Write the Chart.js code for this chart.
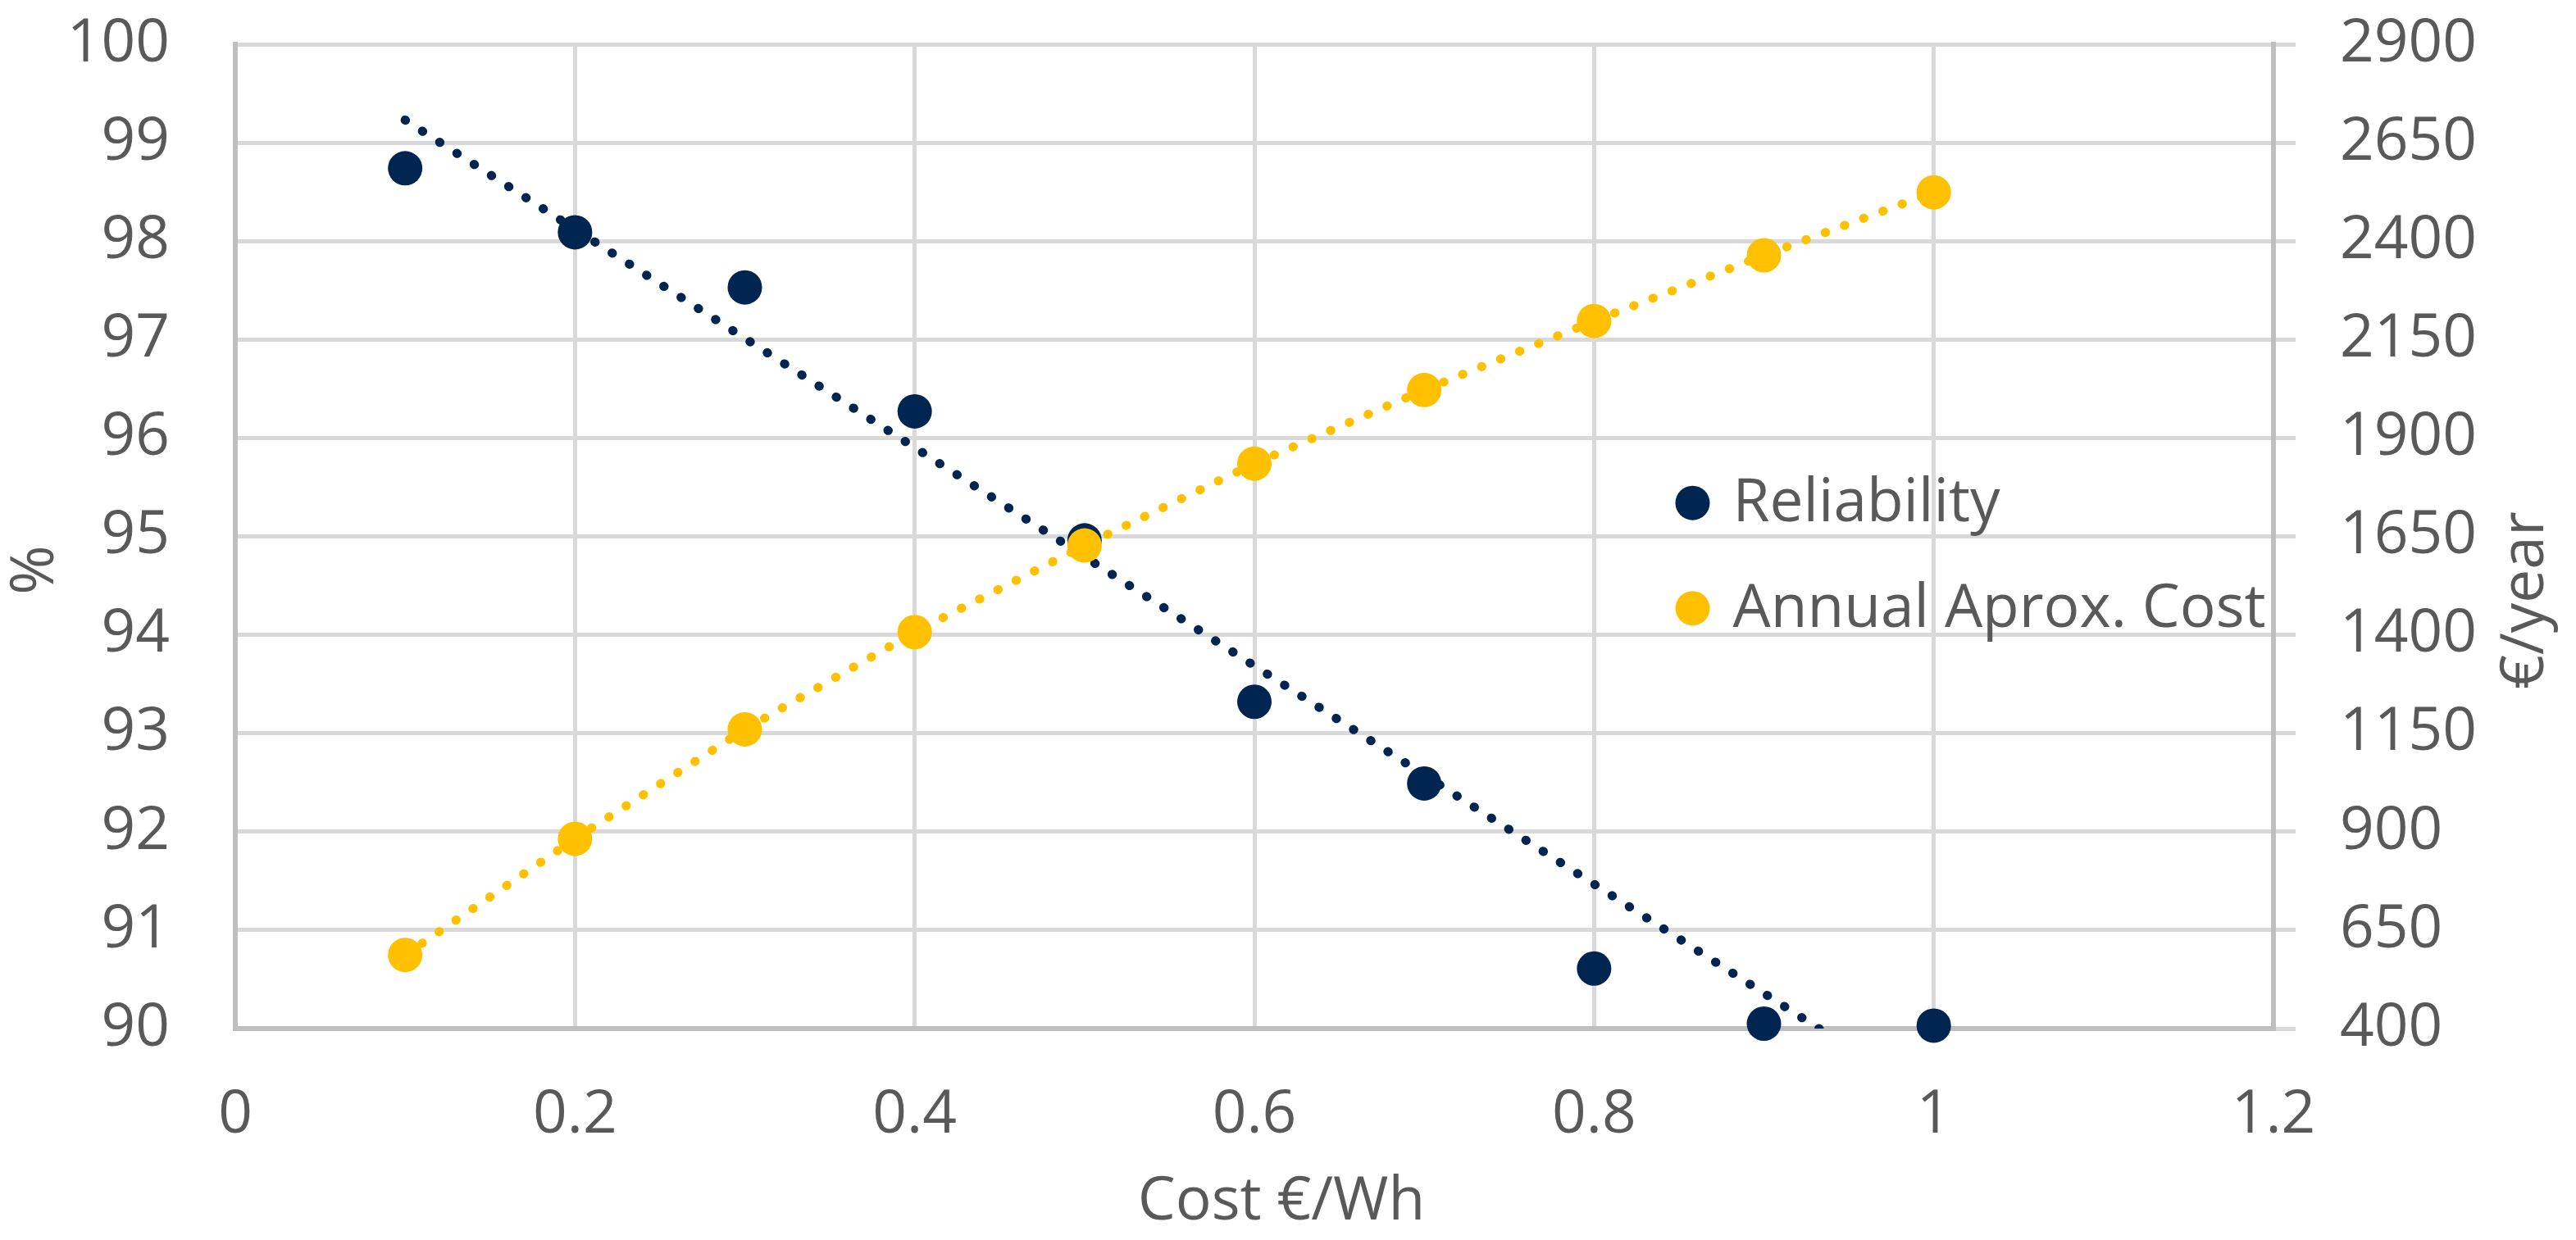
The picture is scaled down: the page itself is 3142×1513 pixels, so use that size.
<!DOCTYPE html>
<html>
<head>
<meta charset="utf-8">
<title>Reliability vs cost</title>
<script src="https://cdn.jsdelivr.net/npm/chart.js@4/dist/chart.umd.min.js"></script>
<style>
  html, body { margin: 0; padding: 0; background: #fff; }
  #wrap { width: 3142px; height: 1513px; }
</style>
</head>
<body>
<div id="wrap"><canvas id="chart" width="3142" height="1513"></canvas></div>
<script>
// values
const costPerWh = [0.1, 0.2, 0.3, 0.4, 0.5, 0.6, 0.7, 0.8, 0.9, 1.0];
const reliability = [98.74, 98.09, 97.53, 96.27, 94.96, 93.32, 92.49, 90.61, 90.05, 90.03];
const annualCost = [587, 882, 1160, 1407, 1627, 1835, 2022, 2197, 2364, 2524];

// linear trendline of reliability, end points as drawn
const trendX = [0.1, 1.0];
const trendY = [99.23, 89.25];

const xTicks = [0, 0.2, 0.4, 0.6, 0.8, 1, 1.2];
const pctTicks = [90, 91, 92, 93, 94, 95, 96, 97, 98, 99, 100];
const eurTicks = [400, 650, 900, 1150, 1400, 1650, 1900, 2150, 2400, 2650, 2900];

const seriesNames = ['Reliability', 'Annual Aprox. Cost'];
const titleX = 'Cost €/Wh';
const titleLeft = '%';
const titleRight = '€/year';

const NAVY = '#002551';
const GOLD = '#ffc000';
const TEXT = '#595959';
const FONT = '"Open Sans", sans-serif';
const FS = 73;

const toXY = (xs, ys) => xs.map((x, i) => ({ x: x, y: ys[i] }));

// fixed axis boxes, and drop the extra padding chart.js adds for tick labels
function fixBox(w, h) {
  return s => {
    if (w != null) s.width = w;
    if (h != null) s.height = h;
    s.paddingTop = 0;
    s.paddingBottom = 0;
    s.paddingLeft = 0;
    s.paddingRight = 0;
  };
}

// own legend + axis titles, Excel puts them where Chart.js can't
const extras = {
  id: 'extras',
  afterDraw(chart) {
    const ctx = chart.ctx;
    const a = chart.chartArea;
    const midY = (a.top + a.bottom) / 2;
    const midX = (a.left + a.right) / 2;
    ctx.save();
    ctx.fillStyle = TEXT;
    ctx.font = FS + 'px ' + FONT;
    ctx.textBaseline = 'middle';

    // legend
    const lx = a.left + (a.right - a.left) * 0.715;
    const rows = [a.top + (a.bottom - a.top) * 0.466, a.top + (a.bottom - a.top) * 0.573];
    const colors = [NAVY, GOLD];
    rows.forEach((y, i) => {
      ctx.beginPath();
      ctx.fillStyle = colors[i];
      ctx.arc(lx, y, 21, 0, Math.PI * 2);
      ctx.fill();
      ctx.fillStyle = TEXT;
      ctx.textAlign = 'left';
      ctx.fillText(seriesNames[i], lx + 49, y + 2);
    });

    // axis titles
    ctx.textAlign = 'center';
    ctx.fillText(titleX, midX + 33, a.bottom + 212);

    ctx.save();
    ctx.translate(a.left - 243, midY + 41);
    ctx.rotate(-Math.PI / 2);
    ctx.fillText(titleLeft, 0, 0);
    ctx.restore();

    ctx.save();
    ctx.translate(a.right + 308, midY + 78);
    ctx.rotate(-Math.PI / 2);
    ctx.fillText(titleRight, 0, 0);
    ctx.restore();

    ctx.restore();
  }
};

const ctx = document.getElementById('chart').getContext('2d');
const chart = new Chart(ctx, {
  type: 'scatter',
  data: {
    datasets: [
      {
        label: seriesNames[1],
        data: toXY(costPerWh, annualCost),
        yAxisID: 'y2',
        showLine: true,
        borderColor: GOLD,
        borderWidth: 11,
        borderDash: [0.5, 24.5],
        borderCapStyle: 'round',
        pointRadius: 21,
        pointBackgroundColor: GOLD,
        pointBorderWidth: 0,
        clip: false,
        order: 0
      },
      {
        label: seriesNames[0],
        data: toXY(costPerWh, reliability),
        yAxisID: 'y',
        pointRadius: 21,
        pointBackgroundColor: NAVY,
        pointBorderWidth: 0,
        clip: false,
        order: 1
      },
      {
        label: 'trend',
        data: toXY(trendX, trendY),
        yAxisID: 'y',
        showLine: true,
        borderColor: NAVY,
        borderWidth: 11,
        borderDash: [0.5, 24.5],
        borderCapStyle: 'round',
        pointRadius: 0,
        order: 2
      }
    ]
  },
  options: {
    responsive: false,
    devicePixelRatio: 1,
    animation: false,
    layout: { padding: { top: 54, left: 0, right: 0, bottom: 0 } },
    plugins: {
      legend: { display: false },
      tooltip: { enabled: false }
    },
    scales: {
      x: {
        type: 'linear',
        min: 0,
        max: 1.2,
        afterBuildTicks: s => { s.ticks = xTicks.map(v => ({ value: v })); },
        afterFit: fixBox(null, 258),
        ticks: {
          color: TEXT,
          font: { family: FONT, size: FS },
          padding: 62,
          callback: v => String(Number(v.toFixed(1)))
        },
        grid: { color: '#d9d9d9', lineWidth: 5, drawTicks: false },
        border: { color: '#bfbfbf', width: 6 }
      },
      y: {
        position: 'left',
        min: 90,
        max: 100,
        afterBuildTicks: s => { s.ticks = pctTicks.map(v => ({ value: v })); },
        afterFit: fixBox(287, null),
        ticks: {
          color: TEXT,
          font: { family: FONT, size: FS },
          padding: 80,
          callback: v => String(v)
        },
        grid: { color: '#d9d9d9', lineWidth: 5, drawTicks: false },
        border: { color: '#bfbfbf', width: 6 }
      },
      y2: {
        position: 'right',
        min: 400,
        max: 2900,
        afterBuildTicks: s => { s.ticks = eurTicks.map(v => ({ value: v })); },
        afterFit: fixBox(369, null),
        ticks: {
          color: TEXT,
          font: { family: FONT, size: FS },
          padding: 54,
          callback: v => String(v)
        },
        grid: {
          drawOnChartArea: false,
          drawTicks: true,
          tickLength: 27,
          color: '#d9d9d9',
          lineWidth: 5
        },
        border: { color: '#bfbfbf', width: 6 }
      }
    }
  },
  plugins: [extras]
});
</script>
</body>
</html>
